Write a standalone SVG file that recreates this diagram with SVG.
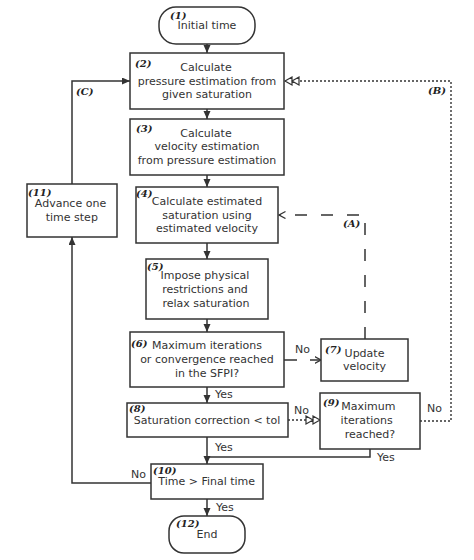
<svg xmlns="http://www.w3.org/2000/svg" width="474" height="560" viewBox="0 0 474 560">
<style>
  .box{fill:#fff;stroke:#333;stroke-width:1.5}
  .t{font-family:"DejaVu Sans",sans-serif;font-size:11px;fill:#333;text-anchor:middle}
  .el{font-family:"DejaVu Sans",sans-serif;font-size:11px;fill:#333}
  .n{font-family:"DejaVu Serif",serif;font-size:10px;font-weight:bold;font-style:italic;fill:#222}
  .c{fill:none;stroke:#333;stroke-width:1.5}
  .dash{stroke-dasharray:12 14;stroke-dashoffset:10}
  .dash2{stroke-dasharray:13 13}
  .dot{stroke-dasharray:2 2;stroke-width:1.4}
</style>
<defs>
  <marker id="af" markerUnits="userSpaceOnUse" markerWidth="10" markerHeight="10" refX="8" refY="3.5" orient="auto">
    <path d="M0,0 L8,3.5 L0,7 Z" fill="#333"/>
  </marker>
  <marker id="ch" markerUnits="userSpaceOnUse" markerWidth="10" markerHeight="10" refX="6.5" refY="4" orient="auto-start-reverse">
    <path d="M0,0.5 L6.5,4 L0,7.5" fill="none" stroke="#333" stroke-width="1.3"/>
  </marker>
  <marker id="dt" markerUnits="userSpaceOnUse" markerWidth="18" markerHeight="12" refX="15" refY="5" orient="auto">
    <path d="M1,1 L8,5 L1,9 Z M8,1 L15,5 L8,9 Z" fill="#fff" stroke="#333" stroke-width="1.2"/>
  </marker>
</defs>

<g id="connectors">
  <path class="c" d="M207,44 L207,53" marker-end="url(#af)"/>
  <path class="c" d="M207,109 L207,119" marker-end="url(#af)"/>
  <path class="c" d="M207,175 L207,187" marker-end="url(#af)"/>
  <path class="c" d="M207,243 L207,259" marker-end="url(#af)"/>
  <path class="c" d="M207,319 L207,332" marker-end="url(#af)"/>
  <path class="c" d="M207,387 L207,403" marker-end="url(#af)"/>
  <text class="el" x="215" y="398">Yes</text>
  <path class="c dash2" d="M284,360 L321,360" marker-end="url(#ch)"/>
  <text class="el" x="295" y="353">No</text>
  <path class="c dash" d="M279,215 L365,215 L365,339" marker-start="url(#ch)"/>
  <text class="n" x="343" y="227">(A)</text>
  <path class="c dot" d="M288,420 L320,420" marker-end="url(#dt)"/>
  <text class="el" x="294" y="414">No</text>
  <path class="c dot" d="M420,421 L451,421 L451,81 L285,81" marker-end="url(#dt)"/>
  <text class="el" x="427" y="412">No</text>
  <text class="n" x="428" y="94">(B)</text>
  <path class="c" d="M207,437 L207,464" marker-end="url(#af)"/>
  <text class="el" x="215" y="451">Yes</text>
  <path class="c" d="M370,449 L370,457 L207,457"/>
  <text class="el" x="377" y="461">Yes</text>
  <path class="c" d="M151,483 L72,483 L72,237" marker-end="url(#af)"/>
  <text class="el" x="131" y="478">No</text>
  <path class="c" d="M72,184 L72,81 L130,81" marker-end="url(#af)"/>
  <text class="n" x="76" y="95">(C)</text>
  <path class="c" d="M207,499 L207,516" marker-end="url(#af)"/>
  <text class="el" x="216" y="511">Yes</text>
</g>

<g id="node1">
  <rect class="box" x="159" y="7" width="96" height="37" rx="17"/>
  <text class="n" x="170" y="19">(1)</text>
  <text class="t" x="207" y="29">Initial time</text>
</g>
<g id="node2">
  <rect class="box" x="130" y="53" width="154" height="56"/>
  <text class="n" x="135" y="67">(2)</text>
  <text class="t" x="206" y="71">Calculate</text>
  <text class="t" x="207" y="84.5">pressure estimation from</text>
  <text class="t" x="207" y="98.3">given saturation</text>
</g>
<g id="node3">
  <rect class="box" x="130" y="119" width="154" height="56"/>
  <text class="n" x="136" y="132">(3)</text>
  <text class="t" x="206" y="136.7">Calculate</text>
  <text class="t" x="207" y="150.4">velocity estimation</text>
  <text class="t" x="207" y="164.1">from pressure estimation</text>
</g>
<g id="node4">
  <rect class="box" x="136" y="187" width="142" height="56"/>
  <text class="n" x="136" y="197">(4)</text>
  <text class="t" x="207" y="205">Calculate estimated</text>
  <text class="t" x="207" y="218.7">saturation using</text>
  <text class="t" x="207" y="232.4">estimated velocity</text>
</g>
<g id="node5">
  <rect class="box" x="146" y="259" width="122" height="60"/>
  <text class="n" x="147" y="270">(5)</text>
  <text class="t" x="205" y="279.3">Impose physical</text>
  <text class="t" x="205" y="293">restrictions and</text>
  <text class="t" x="206" y="306.7">relax saturation</text>
</g>
<g id="node6">
  <rect class="box" x="130" y="332" width="154" height="55"/>
  <text class="n" x="131" y="347">(6)</text>
  <text class="t" x="207" y="349.3">Maximum iterations</text>
  <text class="t" x="207" y="363.3">or convergence reached</text>
  <text class="t" x="207" y="377.3">in the SFPI?</text>
</g>
<g id="node7">
  <rect class="box" x="321" y="339" width="87" height="42"/>
  <text class="n" x="325" y="353">(7)</text>
  <text class="t" x="364.5" y="356.7">Update</text>
  <text class="t" x="364.5" y="370.4">velocity</text>
</g>
<g id="node8">
  <rect class="box" x="127" y="403" width="161" height="34"/>
  <text class="n" x="129" y="412">(8)</text>
  <text class="t" x="207" y="424">Saturation correction &lt; tol</text>
</g>
<g id="node9">
  <rect class="box" x="320" y="393" width="100" height="56"/>
  <text class="n" x="323" y="406">(9)</text>
  <text class="t" x="368.3" y="410">Maximum</text>
  <text class="t" x="366.7" y="424">iterations</text>
  <text class="t" x="370" y="437.7">reached?</text>
</g>
<g id="node10">
  <rect class="box" x="151" y="464" width="112" height="35"/>
  <text class="n" x="153" y="474">(10)</text>
  <text class="t" x="206.7" y="485">Time &gt; Final time</text>
</g>
<g id="node11">
  <rect class="box" x="27" y="184" width="90" height="53"/>
  <text class="n" x="28" y="196">(11)</text>
  <text class="t" x="70.5" y="206.7">Advance one</text>
  <text class="t" x="71.8" y="220.7">time step</text>
</g>
<g id="node12">
  <rect class="box" x="169" y="516" width="76" height="37" rx="15"/>
  <text class="n" x="176" y="527">(12)</text>
  <text class="t" x="207" y="537.7">End</text>
</g>
</svg>
